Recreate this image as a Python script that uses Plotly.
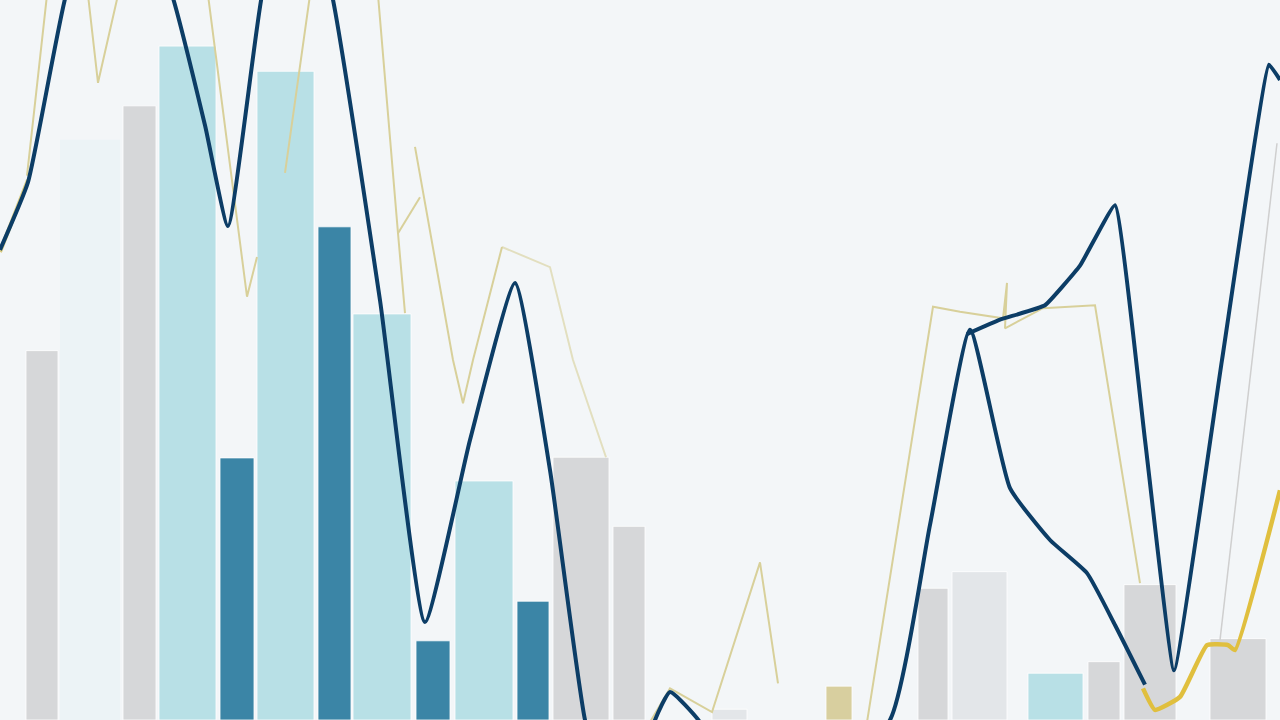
import plotly.graph_objects as go

# ---- data ----
# bar groups: positions on the x scale, heights in % of the plot height
gray_x = [4.2, 13.95, 58.1, 62.9, 93.3, 110.4, 115.0, 123.8]
gray_y = [51.3, 85.3, 36.5, 26.9, 18.3, 8.1, 18.8, 11.3]
gray_w = [3.2, 3.3, 5.6, 3.2, 3.0, 3.2, 5.2, 5.6]

pale_x = [9.0]
pale_y = [80.6]
pale_w = [6.0]

light_gray_x = [72.95, 97.95]
light_gray_y = [1.5, 20.6]
light_gray_w = [3.5, 5.5]

light_blue_x = [18.75, 28.55, 38.2, 48.4, 105.55]
light_blue_y = [93.6, 90.1, 56.4, 33.2, 6.5]
light_blue_w = [5.7, 5.7, 5.8, 5.8, 5.5]

teal_x = [23.7, 33.45, 43.3, 53.3]
teal_y = [36.4, 68.5, 11.0, 16.5]
teal_w = [3.4, 3.3, 3.4, 3.2]

tan_x = [83.9]
tan_y = [4.7]
tan_w = [2.6]

# thick navy spline lines
navy_a_x = [0, 2.8, 6.6, 11.5, 17.2, 20.5, 22.8, 26.2, 29.6, 33.2, 38.0, 42.5, 47.0,
            51.5, 55.0, 58.5, 62.0, 65.5, 67.0, 70.0, 76.0, 89.0, 93.0, 97.0, 101.0,
            105.0, 108.7, 111.5, 114.5]
navy_a_y = [65.3, 74.7, 100.7, 119.4, 100.7, 82.6, 68.6, 100.7, 118.1, 100.7, 58.3, 13.6, 38.9,
            60.7, 34.7, 0.0, -16.7, 0.0, 3.9, -0.3, -18.0, 0.0, 27.1, 54.2, 32.2,
            25.0, 20.4, 13.2, 4.9]

navy_b_x = [96.7, 100.0, 104.5, 108.0, 111.5, 114.5, 117.4, 122.2, 126.9, 128.0]
navy_b_y = [53.6, 55.6, 57.6, 63.1, 71.5, 38.9, 6.9, 50.0, 91.0, 88.9]

# thin khaki line (None = gap)
khaki_x = [2.7, 4.7, 6.8, 8.8, 9.8, 11.8, 16.0, 20.8, 24.7, 25.7, None,
           28.5, 31.0, 34.5, 37.8, 39.8, 40.5, None,
           39.8, 42.0, None,
           41.5, 45.3, 46.3, 47.3, 50.2, None,
           65.0, 67.0, 71.2, 76.0, 77.8, None,
           86.7, 93.3, 96.0, 100.3, 100.7, 100.5, 104.3, 109.5, 114.0]
khaki_y = [75.6, 100.7, 116.7, 100.7, 88.5, 100.7, 120.8, 100.7, 58.8, 64.3, None,
           76.0, 100.7, 120.8, 100.7, 67.6, 56.5, None,
           67.6, 72.6, None,
           79.6, 50.0, 44.0, 50.0, 65.7, None,
           -0.3, 4.4, 1.1, 21.9, 5.1, None,
           -0.3, 57.4, 56.7, 55.8, 60.7, 54.4, 57.2, 57.6, 19.0]

# faint continuation of the khaki line
khaki_faint_x = [50.2, 55.0, 57.3, 60.3, 60.6]
khaki_faint_y = [65.7, 62.9, 50.0, 37.9, 36.5]

# thin light-gray line
silver_x = [127.7, 122.0]
silver_y = [80.1, 11.1]

# thick yellow line (bottom right) and short yellow stroke (top left)
yellow_x = [114.3, 115.5, 118.0, 120.7, 122.8, 123.5, 128.0]
yellow_y = [4.4, 1.4, 3.2, 10.4, 10.4, 9.7, 31.9]
yellow_tl_x = [0, 2.8]
yellow_tl_y = [65.0, 75.0]

fig = go.Figure()

def add_bars(x, y, w, color, border=True):
    fig.add_trace(go.Bar(x=x, y=y, width=w,
                         marker=dict(color=color,
                                     line=dict(color="rgba(255,255,255,0.8)" if border else color,
                                               width=1 if border else 0)),
                         hoverinfo="skip", showlegend=False))

add_bars(pale_x, pale_y, pale_w, "#ecf3f6", border=False)
add_bars(gray_x, gray_y, gray_w, "#d6d7d9")
add_bars(light_gray_x, light_gray_y, light_gray_w, "#e3e6e9")
add_bars(light_blue_x, light_blue_y, light_blue_w, "#b8e0e6")
add_bars(teal_x, teal_y, teal_w, "#3b85a6")
add_bars(tan_x, tan_y, tan_w, "#d8cf9f")

fig.add_trace(go.Scatter(x=khaki_x, y=khaki_y, mode="lines", connectgaps=False,
                         line=dict(color="#d8d09a", width=2), showlegend=False, hoverinfo="skip"))
fig.add_trace(go.Scatter(x=khaki_faint_x, y=khaki_faint_y, mode="lines",
                         line=dict(color="#d8d09a", width=2), opacity=0.6,
                         showlegend=False, hoverinfo="skip"))
fig.add_trace(go.Scatter(x=silver_x, y=silver_y, mode="lines",
                         line=dict(color="#cfcfcf", width=1.5), showlegend=False, hoverinfo="skip"))
fig.add_trace(go.Scatter(x=yellow_tl_x, y=yellow_tl_y, mode="lines",
                         line=dict(color="#d9cc80", width=4), showlegend=False, hoverinfo="skip"))
fig.add_trace(go.Scatter(x=navy_a_x, y=navy_a_y, mode="lines",
                         line=dict(color="#0c3d66", width=4, shape="spline", smoothing=0.45),
                         showlegend=False, hoverinfo="skip"))
fig.add_trace(go.Scatter(x=navy_b_x, y=navy_b_y, mode="lines",
                         line=dict(color="#0c3d66", width=4, shape="spline", smoothing=0.3),
                         showlegend=False, hoverinfo="skip"))
fig.add_trace(go.Scatter(x=yellow_x, y=yellow_y, mode="lines",
                         line=dict(color="#e0bf3e", width=4.5, shape="spline", smoothing=0.4),
                         showlegend=False, hoverinfo="skip"))

fig.update_layout(
    width=1280, height=720,
    margin=dict(l=0, r=0, t=0, b=0),
    paper_bgcolor="#f3f6f8",
    plot_bgcolor="#f3f6f8",
    barmode="overlay",
    showlegend=False,
    xaxis=dict(range=[0, 128], visible=False, fixedrange=True),
    yaxis=dict(range=[0, 100], visible=False, fixedrange=True),
)

fig.write_html("out.html", config={"displayModeBar": False},
               post_script="document.body.style.margin='0';document.body.style.overflow='hidden';"
                           "document.body.style.background='#f3f6f8';")
